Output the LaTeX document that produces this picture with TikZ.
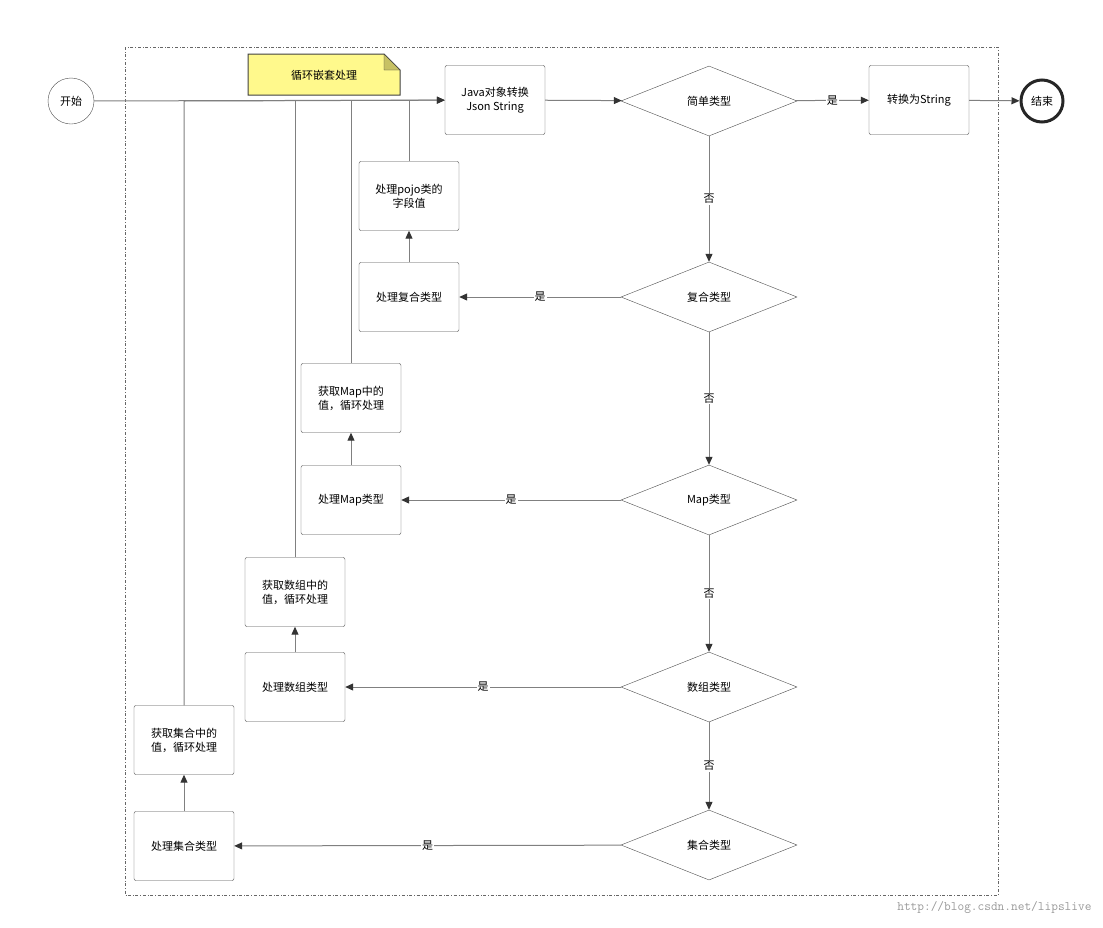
\documentclass[tikz,border=0pt]{standalone}
\usepackage{fontspec}
\setmainfont{Noto Sans CJK SC}
\usetikzlibrary{shapes.geometric,arrows.meta,positioning}
\tikzset{
  box/.style={draw=black!70,rounded corners=2pt,minimum width=100pt,minimum height=69pt,align=center,font=\fontsize{11}{14}\selectfont},
  dia/.style={draw=black!70,diamond,aspect=2.5,minimum width=176pt,minimum height=70pt,inner sep=0pt,font=\fontsize{11}{14}\selectfont},
  term/.style={draw=black!70,circle,minimum size=46pt,font=\fontsize{11}{14}\selectfont},
  flow/.style={draw=black!50,line width=1pt,-{Triangle[length=8pt,width=7pt,color=black!80]}},
  lbl/.style={fill=white,font=\fontsize{11}{14}\selectfont,inner sep=1pt}
}
\begin{document}
\begin{tikzpicture}[x=1pt,y=-1pt]
        \useasboundingbox (0,0) rectangle (1103,927);
        \draw[black!60,dash dot] (125,47) rectangle (998,895);

        % note
        \fill[yellow!45] (248,54) -- (384,54) -- (400,70) -- (400,95) -- (248,95) -- cycle;
        \draw[black!75,line width=1pt] (248,54) -- (384,54) -- (400,70) -- (400,95) -- (248,95) -- cycle;
        \draw[black!75,fill=olive!50] (384,54) -- (384,70) -- (400,70) -- cycle;
        \node[font=\fontsize{11}{14}\selectfont] at (324,75) {循环嵌套处理};

        \node[term] (start) at (71,101) {开始};
        \node[term,line width=3pt,draw=black!85,minimum size=42pt] (stop) at (1042,101) {结束};
        \node[box] (json) at (495,100) {Java对象转换\\Json String};
        \node[dia] (simple) at (709,101) {简单类型};
        \node[box] (str) at (919,100) {转换为String};
        \node[dia] (comp) at (709,297) {复合类型};
        \node[box] (pcomp) at (409,297) {处理复合类型};
        \node[box] (pojo) at (409,196) {处理pojo类的\\字段值};
        \node[dia] (map) at (709,500) {Map类型};
        \node[box] (pmap) at (351,500) {处理Map类型};
        \node[box] (gmap) at (351,398) {获取Map中的\\值，循环处理};
        \node[dia] (arr) at (709,687) {数组类型};
        \node[box] (parr) at (295,687) {处理数组类型};
        \node[box] (garr) at (295,592) {获取数组中的\\值，循环处理};
        \node[dia] (coll) at (709,845) {集合类型};
        \node[box] (pcoll) at (184,846) {处理集合类型};
        \node[box] (gcoll) at (184,740) {获取集合中的\\值，循环处理};

        \coordinate (loop) at (184,101);
        \draw[flow] (start) -- (json);
        \draw[flow] (json) -- (simple);
        \draw[flow] (simple) -- node[lbl]{是} (str);
        \draw[flow] (str) -- (stop);
        \draw[flow] (simple) -- node[lbl]{否} (comp);
        \draw[flow] (comp) -- node[lbl]{否} (map);
        \draw[flow] (map) -- node[lbl]{否} (arr);
        \draw[flow] (arr) -- node[lbl]{否} (coll);
        \draw[flow] (comp) -- node[lbl]{是} (pcomp);
        \draw[flow] (map) -- node[lbl]{是} (pmap);
        \draw[flow] (arr) -- node[lbl]{是} (parr);
        \draw[flow] (coll) -- node[lbl]{是} (pcoll);
        \draw[flow] (pcomp) -- (pojo);
        \draw[flow] (pmap) -- (gmap);
        \draw[flow] (parr) -- (garr);
        \draw[flow] (pcoll) -- (gcoll);
        \draw[flow] (gcoll) -- (loop) -- (json);
        \draw[draw=black!50,line width=1pt] (garr) -- (garr|-loop);
        \draw[draw=black!50,line width=1pt] (gmap) -- (gmap|-loop);
        \draw[draw=black!50,line width=1pt] (pojo) -- (pojo|-loop);

        \node[black!40,font=\fontsize{13}{15}\ttfamily,anchor=east] at (1095,907) {http://blog.csdn.net/lipslive};
      \end{tikzpicture}
\end{document}
